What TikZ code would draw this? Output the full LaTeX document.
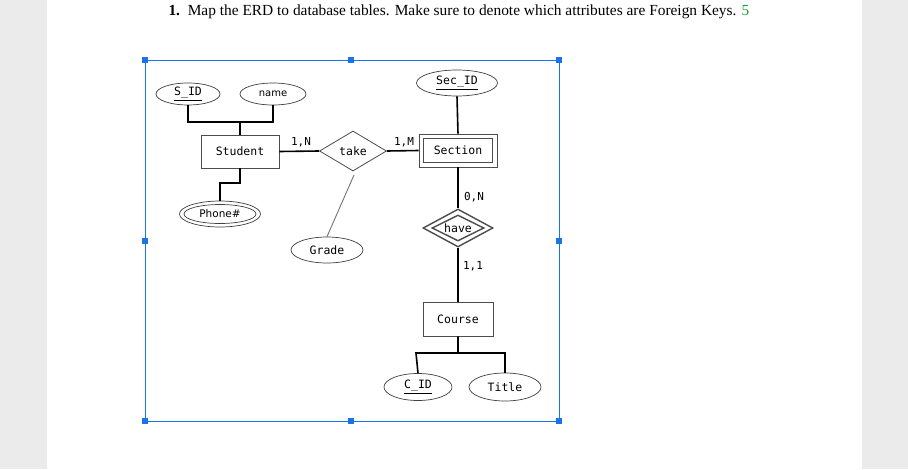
\documentclass[tikz,border=0pt]{standalone}
\usepackage{fontspec}
\setmainfont{Liberation Serif}
\newfontfamily\mono{DejaVu Sans Mono}
\newfontfamily\dsans{DejaVu Sans}
\usetikzlibrary{shapes.geometric}
\definecolor{selblue}{HTML}{1A73E8}
\definecolor{gradeg}{HTML}{1E9E3E}
\tikzset{
  ent/.style={draw=black!70,line width=0.8pt,minimum width=78pt,minimum height=33pt,inner sep=0pt,font=\mono\fontsize{11.5}{13}\selectfont},
  attr/.style={ellipse,draw=black!75,line width=0.7pt,inner sep=0pt,font=\mono\fontsize{11.5}{13}\selectfont},
  rel/.style={diamond,draw=black!70,line width=0.8pt,inner sep=0pt,minimum width=67pt,minimum height=40pt,aspect=1.7,font=\mono\fontsize{11.5}{13}\selectfont},
  conn/.style={line width=1.6pt,black},
  lbl/.style={font=\mono\fontsize{11}{13}\selectfont},
  handle/.style={fill=selblue,minimum size=6pt,inner sep=0pt}
}
\begin{document}
\begin{tikzpicture}[x=1pt,y=-1pt]
\useasboundingbox (0,0) rectangle (908,469);
\fill[black!8] (0,0) rectangle (908,469);
\fill[white] (47,0) rectangle (862,469);
\node[anchor=west,font=\fontsize{15.4}{17}\selectfont] (title) at (165,12) {\textbf{1.}\ \ Map the ERD to database tables. Make sure to denote which attributes are Foreign Keys. \textcolor{gradeg}{5}};
% selection frame
\draw[selblue,line width=0.8pt] (145,60) rectangle (559,421);
\foreach \p/\n in {{145,60}/h1,{351,60}/h2,{559,60}/h3,{145,241}/h4,{559,241}/h5,{145,421}/h6,{351,421}/h7,{559,421}/h8}
  \node[handle] (\n) at (\p) {};
% nodes
\node[ent] (student) at (240,151.5) {Student};
\node[ent,minimum width=78pt,minimum height=33pt] (section) at (458,150.5) {};
\node[draw=black!70,line width=0.8pt,minimum width=69pt,minimum height=24pt,inner sep=0pt,font=\mono\fontsize{11.5}{13}\selectfont] (sectionin) at (458,150.5) {Section};
\node[ent,minimum width=70pt,minimum height=34pt] (course) at (458,319) {Course};
\node[attr,minimum width=64pt,minimum height=22pt] (sid) at (188,94) {\underline{S\_ID}};
\node[attr,minimum width=66pt,minimum height=22pt,font=\dsans\fontsize{10}{12}\selectfont] (name) at (273,94) {name};
\node[attr,minimum width=81pt,minimum height=26pt] (secid) at (457,83) {\underline{Sec\_ID}};
\node[attr,minimum width=81pt,minimum height=26pt] (phone) at (220,214) {};
\node[attr,minimum width=72pt,minimum height=19pt,font=\dsans\fontsize{10.5}{12}\selectfont] (phonein) at (220,214) {Phone\#};
\node[attr,minimum width=72pt,minimum height=26pt] (grade) at (327,250) {Grade};
\node[attr,minimum width=68pt,minimum height=27pt] (cid) at (418,387) {\underline{C\_ID}};
\node[attr,minimum width=72pt,minimum height=28pt] (title2) at (505,387) {Title};
\node[rel] (take) at (353,151) {take};
\node[rel,line width=1.4pt,minimum width=70pt,minimum height=38pt] (have) at (458,228) {};
\node[rel,line width=1.4pt,minimum width=52pt,minimum height=26pt] (havein) at (458,228) {have};
% connectors
\draw[conn] (sid.south) |- (240,122) -| (name.south);
\draw[conn] (240,122) -- (student.north);
\draw[conn] (student.south) |- (220,183) -- (phone.north);
\draw[conn] (student.east) -- (take.west);
\draw[conn] (take.east) -- (section.west);
\draw[line width=0.9pt,black!55] (354,175) -- (grade.north);
\draw[conn] (secid.south) -- (section.north);
\draw[conn] (section.south) -- (have.north);
\draw[conn] (have.south) -- (course.north);
\draw[conn] (course.south) |- (416,353) -- (cid.north);
\draw[conn] (458,353) -| (title2.north);
% labels
\node[lbl] (l1) at (301,142) {1,N};
\node[lbl] (l2) at (404,142) {1,M};
\node[lbl] (l3) at (474,197) {0,N};
\node[lbl] (l4) at (473,266) {1,1};
\end{tikzpicture}
\end{document}
